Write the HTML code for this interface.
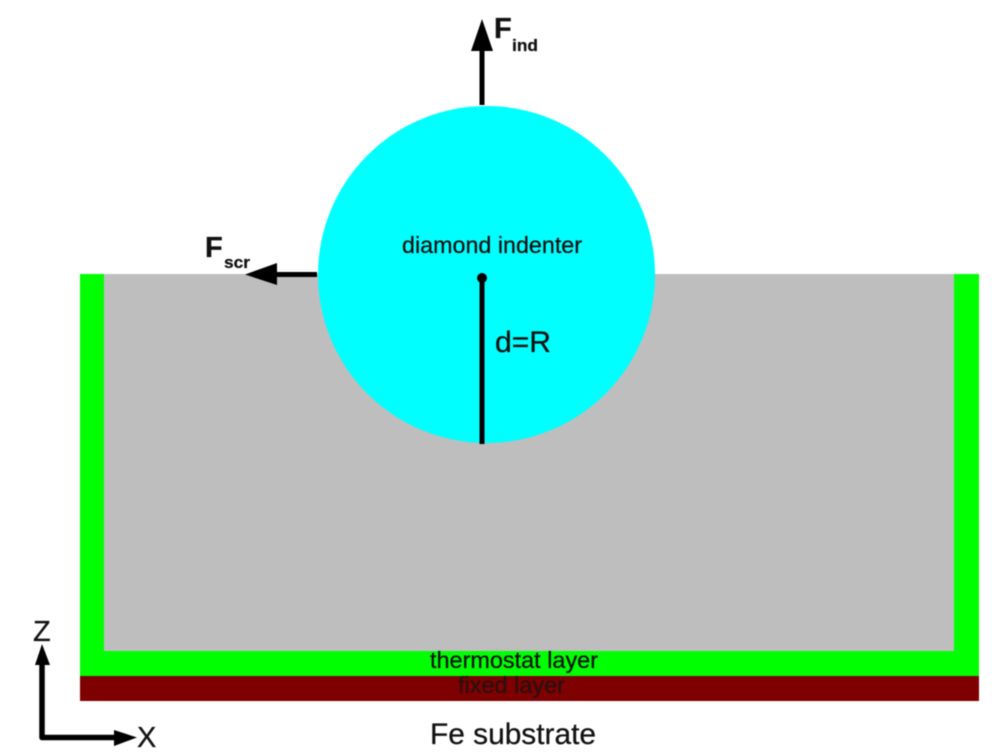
<!DOCTYPE html>
<html>
<head>
<meta charset="utf-8">
<style>
html,body{margin:0;padding:0;background:#fff;}
svg{display:block;}
text{font-family:"Liberation Sans",sans-serif;fill:#111;stroke:#111;stroke-width:0.25px;}
</style>
</head>
<body>
<svg width="992" height="752" viewBox="0 0 992 752" xmlns="http://www.w3.org/2000/svg">
<rect width="992" height="752" fill="#fff"/>
<g style="filter:blur(0.5px)">
<rect x="80" y="274" width="899" height="402" fill="#00ff00"/>
<rect x="104" y="274" width="850" height="377" fill="#bebebe"/>
<rect x="80" y="676" width="899" height="25" fill="#7e0000"/>
<circle cx="486.5" cy="274.5" r="168.5" fill="#00ffff"/>

<rect x="479.5" y="48" width="5" height="57" fill="#000"/>
<polygon points="482,19 471,51 493,51" fill="#000"/>

<rect x="274" y="272" width="43" height="5" fill="#000"/>
<polygon points="245,274.5 277,263 277,285" fill="#000"/>

<circle cx="482" cy="278" r="5" fill="#000"/>
<rect x="479.5" y="278" width="5" height="166" fill="#000"/>

<path d="M42 662V737.5H118" fill="none" stroke="#000" stroke-width="5.5" stroke-linejoin="round"/>
<polygon points="42,644 35,665 50,665" fill="#000"/>
<polygon points="137,737.5 114,730 114,746" fill="#000"/>

<text x="494" y="38" font-size="29" font-weight="bold">F</text>
<text x="512" y="51" font-size="17" font-weight="bold" textLength="26" lengthAdjust="spacingAndGlyphs">ind</text>
<text x="205" y="257" font-size="29" font-weight="bold">F</text>
<text x="224" y="268" font-size="17" font-weight="bold" textLength="26" lengthAdjust="spacingAndGlyphs">scr</text>
<text x="402" y="253" font-size="23.3" textLength="180" lengthAdjust="spacingAndGlyphs">diamond indenter</text>
<text x="495" y="352" font-size="30" textLength="56" lengthAdjust="spacingAndGlyphs">d=R</text>
<text x="33" y="641" font-size="29">Z</text>
<text x="137" y="747" font-size="29">X</text>
<text x="430" y="668" font-size="23.3" textLength="168" lengthAdjust="spacingAndGlyphs">thermostat layer</text>
<text x="458" y="693" font-size="23.3" textLength="107" lengthAdjust="spacingAndGlyphs" style="fill:#2a1010;stroke:#2a1010">fixed layer</text>
<text x="430" y="744" font-size="30" textLength="166" lengthAdjust="spacingAndGlyphs">Fe substrate</text>
</g>
</svg>
</body>
</html>
